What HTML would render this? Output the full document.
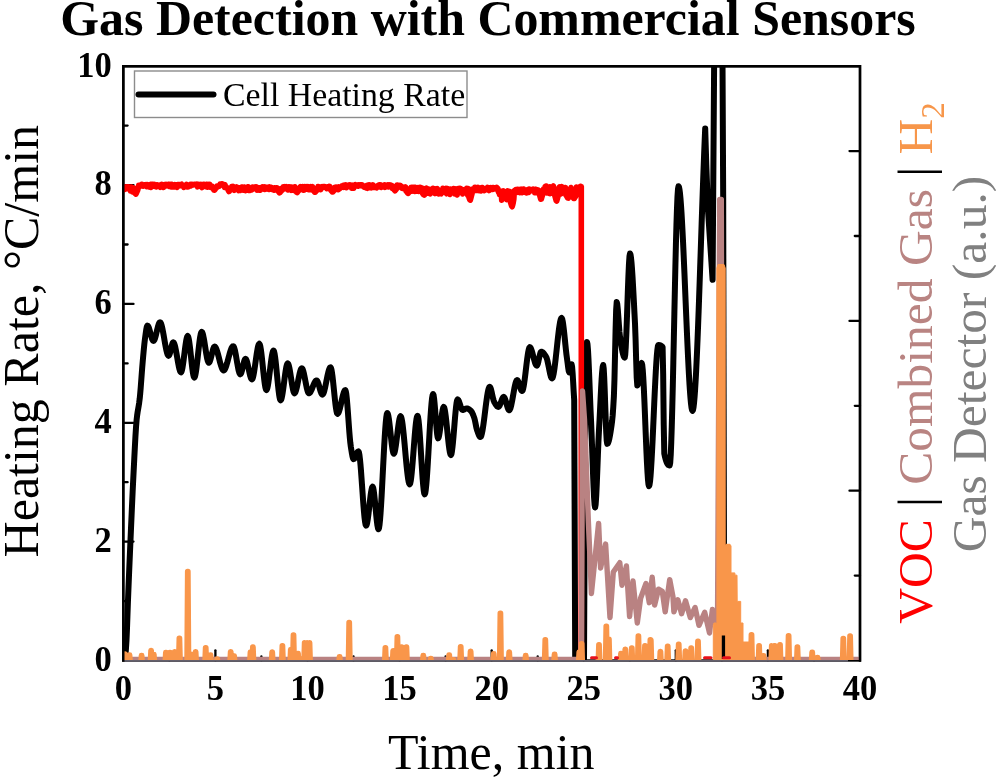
<!DOCTYPE html><html><head><meta charset="utf-8"><title>Gas Detection with Commercial Sensors</title><style>html,body{margin:0;padding:0;background:#fff;}svg{display:block;}</style></head><body>
<svg width="996" height="778" viewBox="0 0 996 778" font-family="'Liberation Serif', 'Times New Roman', serif">
<rect width="996" height="778" fill="#fff"/>
<text x="488" y="35.3" font-size="49.9" font-weight="bold" text-anchor="middle" fill="#000">Gas Detection with Commercial Sensors</text>
<line x1="123.3" y1="601.1" x2="127.6" y2="601.1" stroke="#000" stroke-width="2.3" stroke-linecap="round"/>
<line x1="123.3" y1="541.6" x2="133.5" y2="541.6" stroke="#000" stroke-width="2.3" stroke-linecap="round"/>
<line x1="123.3" y1="482.2" x2="127.6" y2="482.2" stroke="#000" stroke-width="2.3" stroke-linecap="round"/>
<line x1="123.3" y1="422.8" x2="133.5" y2="422.8" stroke="#000" stroke-width="2.3" stroke-linecap="round"/>
<line x1="123.3" y1="363.4" x2="127.6" y2="363.4" stroke="#000" stroke-width="2.3" stroke-linecap="round"/>
<line x1="123.3" y1="303.9" x2="133.5" y2="303.9" stroke="#000" stroke-width="2.3" stroke-linecap="round"/>
<line x1="123.3" y1="244.5" x2="127.6" y2="244.5" stroke="#000" stroke-width="2.3" stroke-linecap="round"/>
<line x1="123.3" y1="185.1" x2="133.5" y2="185.1" stroke="#000" stroke-width="2.3" stroke-linecap="round"/>
<line x1="123.3" y1="125.6" x2="127.6" y2="125.6" stroke="#000" stroke-width="2.3" stroke-linecap="round"/>
<line x1="860.0" y1="575.6" x2="854.8" y2="575.6" stroke="#000" stroke-width="2.3" stroke-linecap="round"/>
<line x1="860.0" y1="490.7" x2="849.5" y2="490.7" stroke="#000" stroke-width="2.3" stroke-linecap="round"/>
<line x1="860.0" y1="405.8" x2="854.8" y2="405.8" stroke="#000" stroke-width="2.3" stroke-linecap="round"/>
<line x1="860.0" y1="320.9" x2="849.5" y2="320.9" stroke="#000" stroke-width="2.3" stroke-linecap="round"/>
<line x1="860.0" y1="236.0" x2="854.8" y2="236.0" stroke="#000" stroke-width="2.3" stroke-linecap="round"/>
<line x1="860.0" y1="151.1" x2="849.5" y2="151.1" stroke="#000" stroke-width="2.3" stroke-linecap="round"/>
<line x1="169.3" y1="660.5" x2="169.3" y2="656.5" stroke="#000" stroke-width="2.3" stroke-linecap="round"/>
<line x1="215.4" y1="660.5" x2="215.4" y2="650.3" stroke="#000" stroke-width="2.3" stroke-linecap="round"/>
<line x1="261.4" y1="660.5" x2="261.4" y2="656.5" stroke="#000" stroke-width="2.3" stroke-linecap="round"/>
<line x1="307.5" y1="660.5" x2="307.5" y2="650.3" stroke="#000" stroke-width="2.3" stroke-linecap="round"/>
<line x1="353.5" y1="660.5" x2="353.5" y2="656.5" stroke="#000" stroke-width="2.3" stroke-linecap="round"/>
<line x1="399.6" y1="660.5" x2="399.6" y2="650.3" stroke="#000" stroke-width="2.3" stroke-linecap="round"/>
<line x1="445.6" y1="660.5" x2="445.6" y2="656.5" stroke="#000" stroke-width="2.3" stroke-linecap="round"/>
<line x1="491.7" y1="660.5" x2="491.7" y2="650.3" stroke="#000" stroke-width="2.3" stroke-linecap="round"/>
<line x1="537.7" y1="660.5" x2="537.7" y2="656.5" stroke="#000" stroke-width="2.3" stroke-linecap="round"/>
<line x1="583.7" y1="660.5" x2="583.7" y2="650.3" stroke="#000" stroke-width="2.3" stroke-linecap="round"/>
<line x1="629.8" y1="660.5" x2="629.8" y2="656.5" stroke="#000" stroke-width="2.3" stroke-linecap="round"/>
<line x1="675.8" y1="660.5" x2="675.8" y2="650.3" stroke="#000" stroke-width="2.3" stroke-linecap="round"/>
<line x1="721.9" y1="660.5" x2="721.9" y2="656.5" stroke="#000" stroke-width="2.3" stroke-linecap="round"/>
<line x1="767.9" y1="660.5" x2="767.9" y2="650.3" stroke="#000" stroke-width="2.3" stroke-linecap="round"/>
<line x1="814.0" y1="660.5" x2="814.0" y2="656.5" stroke="#000" stroke-width="2.3" stroke-linecap="round"/>
<rect x="123.3" y="66.2" width="736.7" height="594.3" fill="none" stroke="#000" stroke-width="2.4"/>
<defs><clipPath id="pc"><rect x="123.3" y="66.2" width="736.7" height="593.7"/></clipPath></defs>
<g clip-path="url(#pc)" fill="none" stroke-linejoin="round" stroke-linecap="round">
<path d="M125.00,661.00 L125.50,654.48 L126.00,647.97 L126.50,640.00 L127.00,628.37 L127.50,613.97 L128.00,600.00 L128.50,587.47 L129.00,575.25 L129.50,563.29 L130.00,551.55 L130.50,540.00 L131.03,527.75 L131.57,515.54 L132.10,503.53 L132.63,491.84 L133.17,480.61 L133.70,470.00 L134.28,458.57 L134.86,447.11 L135.44,436.36 L136.02,427.08 L136.60,420.00 L137.12,415.51 L137.63,411.97 L138.15,408.95 L138.67,406.01 L139.18,402.74 L139.70,398.70 L140.20,393.66 L140.70,387.63 L141.20,381.03 L141.70,374.24 L142.20,367.66 L142.70,361.70 L143.27,355.26 L143.85,348.94 L144.43,343.21 L145.00,338.50 L145.60,334.11 L146.20,329.94 L146.80,326.82 L147.40,325.60 L147.91,325.90 L148.42,326.73 L148.93,327.99 L149.43,329.57 L149.94,331.36 L150.45,333.25 L150.96,335.14 L151.47,336.93 L151.97,338.51 L152.48,339.77 L152.99,340.60 L153.50,340.90 L154.00,340.59 L154.50,339.71 L155.00,338.37 L155.50,336.68 L156.00,334.73 L156.50,332.63 L157.00,330.47 L157.50,328.37 L158.00,326.42 L158.50,324.73 L159.00,323.39 L159.50,322.51 L160.00,322.20 L160.51,322.54 L161.01,323.49 L161.52,324.97 L162.02,326.91 L162.53,329.21 L163.04,331.80 L163.54,334.60 L164.05,337.52 L164.55,340.48 L165.06,343.40 L165.56,346.20 L166.07,348.79 L166.58,351.09 L167.08,353.03 L167.59,354.51 L168.09,355.46 L168.60,355.80 L169.12,355.34 L169.64,354.10 L170.17,352.30 L170.69,350.17 L171.21,347.93 L171.73,345.80 L172.26,344.00 L172.78,342.76 L173.30,342.30 L173.81,342.68 L174.33,343.76 L174.84,345.42 L175.35,347.56 L175.87,350.08 L176.38,352.86 L176.89,355.80 L177.41,358.80 L177.92,361.74 L178.43,364.52 L178.95,367.04 L179.46,369.18 L179.97,370.84 L180.49,371.92 L181.00,372.30 L181.52,371.69 L182.03,369.99 L182.55,367.39 L183.06,364.10 L183.58,360.32 L184.09,356.24 L184.61,352.06 L185.12,347.98 L185.64,344.20 L186.15,340.91 L186.67,338.31 L187.18,336.61 L187.70,336.00 L188.21,336.70 L188.72,338.64 L189.22,341.61 L189.73,345.37 L190.24,349.69 L190.75,354.36 L191.25,359.14 L191.76,363.81 L192.27,368.13 L192.78,371.89 L193.28,374.86 L193.79,376.80 L194.30,377.50 L194.83,376.84 L195.36,374.97 L195.89,372.12 L196.41,368.46 L196.94,364.21 L197.47,359.55 L198.00,354.70 L198.53,349.85 L199.06,345.19 L199.59,340.94 L200.11,337.28 L200.64,334.43 L201.17,332.56 L201.70,331.90 L202.21,332.35 L202.71,333.61 L203.22,335.54 L203.73,338.01 L204.24,340.88 L204.74,344.02 L205.25,347.30 L205.76,350.58 L206.26,353.72 L206.77,356.59 L207.28,359.06 L207.79,360.99 L208.29,362.25 L208.80,362.70 L209.33,362.33 L209.85,361.30 L210.38,359.76 L210.91,357.86 L211.44,355.74 L211.96,353.56 L212.49,351.44 L213.02,349.54 L213.55,348.00 L214.07,346.97 L214.60,346.60 L215.10,346.81 L215.60,347.42 L216.10,348.36 L216.60,349.60 L217.10,351.09 L217.60,352.77 L218.10,354.60 L218.60,356.52 L219.10,358.50 L219.60,360.48 L220.10,362.40 L220.60,364.23 L221.10,365.91 L221.60,367.40 L222.10,368.64 L222.60,369.58 L223.10,370.19 L223.60,370.40 L224.11,370.21 L224.61,369.65 L225.12,368.78 L225.62,367.63 L226.13,366.25 L226.63,364.68 L227.14,362.97 L227.64,361.14 L228.15,359.25 L228.65,357.35 L229.16,355.46 L229.66,353.63 L230.17,351.92 L230.67,350.35 L231.18,348.97 L231.68,347.82 L232.19,346.95 L232.69,346.39 L233.20,346.20 L233.71,346.61 L234.21,347.76 L234.72,349.52 L235.23,351.77 L235.74,354.39 L236.24,357.26 L236.75,360.25 L237.26,363.24 L237.76,366.11 L238.27,368.73 L238.78,370.98 L239.29,372.74 L239.79,373.89 L240.30,374.30 L240.82,373.87 L241.34,372.69 L241.86,370.95 L242.38,368.84 L242.90,366.55 L243.42,364.26 L243.94,362.15 L244.46,360.41 L244.98,359.23 L245.50,358.80 L246.03,359.21 L246.57,360.33 L247.10,362.02 L247.63,364.14 L248.17,366.55 L248.70,369.10 L249.23,371.65 L249.77,374.06 L250.30,376.18 L250.83,377.87 L251.37,378.99 L251.90,379.40 L252.43,378.88 L252.96,377.43 L253.49,375.20 L254.01,372.34 L254.54,369.02 L255.07,365.39 L255.60,361.60 L256.13,357.81 L256.66,354.18 L257.19,350.86 L257.71,348.00 L258.24,345.77 L258.77,344.32 L259.30,343.80 L259.81,344.47 L260.31,346.36 L260.82,349.26 L261.33,352.96 L261.84,357.27 L262.34,361.98 L262.85,366.90 L263.36,371.82 L263.86,376.53 L264.37,380.84 L264.88,384.54 L265.39,387.44 L265.89,389.33 L266.40,390.00 L266.91,389.43 L267.41,387.82 L267.92,385.35 L268.43,382.19 L268.94,378.51 L269.44,374.49 L269.95,370.30 L270.46,366.11 L270.96,362.09 L271.47,358.41 L271.98,355.25 L272.49,352.78 L272.99,351.17 L273.50,350.60 L274.01,351.32 L274.51,353.35 L275.02,356.47 L275.53,360.45 L276.04,365.09 L276.54,370.16 L277.05,375.45 L277.56,380.74 L278.06,385.81 L278.57,390.45 L279.08,394.43 L279.59,397.55 L280.09,399.58 L280.60,400.30 L281.11,399.76 L281.61,398.26 L282.12,395.94 L282.63,392.98 L283.14,389.54 L283.64,385.78 L284.15,381.85 L284.66,377.92 L285.16,374.16 L285.67,370.72 L286.18,367.76 L286.69,365.44 L287.19,363.94 L287.70,363.40 L288.22,363.90 L288.75,365.31 L289.27,367.44 L289.79,370.15 L290.32,373.27 L290.84,376.63 L291.36,380.07 L291.88,383.43 L292.41,386.55 L292.93,389.26 L293.45,391.39 L293.98,392.80 L294.50,393.30 L295.02,392.93 L295.54,391.91 L296.06,390.34 L296.59,388.32 L297.11,385.98 L297.63,383.42 L298.15,380.75 L298.67,378.08 L299.19,375.52 L299.71,373.18 L300.24,371.16 L300.76,369.59 L301.28,368.57 L301.80,368.20 L302.31,368.57 L302.81,369.59 L303.32,371.16 L303.83,373.18 L304.34,375.52 L304.84,378.08 L305.35,380.75 L305.86,383.42 L306.36,385.98 L306.87,388.32 L307.38,390.34 L307.89,391.91 L308.39,392.93 L308.90,393.30 L309.41,393.14 L309.93,392.67 L310.44,391.96 L310.95,391.04 L311.47,389.96 L311.98,388.76 L312.49,387.49 L313.01,386.21 L313.52,384.94 L314.03,383.74 L314.55,382.66 L315.06,381.74 L315.57,381.03 L316.09,380.56 L316.60,380.40 L317.13,380.73 L317.65,381.64 L318.18,382.99 L318.71,384.67 L319.24,386.53 L319.76,388.47 L320.29,390.33 L320.82,392.01 L321.35,393.36 L321.87,394.27 L322.40,394.60 L322.91,394.29 L323.41,393.43 L323.92,392.08 L324.42,390.33 L324.93,388.27 L325.44,385.96 L325.94,383.50 L326.45,380.95 L326.96,378.40 L327.46,375.94 L327.97,373.63 L328.48,371.57 L328.98,369.82 L329.49,368.47 L329.99,367.61 L330.50,367.30 L331.00,367.98 L331.50,369.88 L332.00,372.79 L332.50,376.52 L333.00,380.86 L333.50,385.60 L334.00,390.55 L334.50,395.50 L335.00,400.24 L335.50,404.58 L336.00,408.31 L336.50,411.22 L337.00,413.12 L337.50,413.80 L338.02,413.50 L338.54,412.65 L339.06,411.34 L339.58,409.64 L340.10,407.66 L340.62,405.46 L341.14,403.13 L341.66,400.77 L342.18,398.44 L342.70,396.24 L343.22,394.26 L343.74,392.56 L344.26,391.25 L344.78,390.40 L345.30,390.10 L345.80,391.16 L346.30,394.12 L346.80,398.60 L347.30,404.26 L347.80,410.72 L348.30,417.64 L348.80,424.66 L349.30,431.41 L349.80,437.54 L350.30,442.69 L350.80,446.50 L351.36,449.98 L351.92,453.40 L352.48,456.35 L353.04,458.42 L353.60,459.20 L354.13,458.93 L354.67,458.20 L355.20,457.15 L355.73,455.91 L356.27,454.59 L356.80,453.35 L357.33,452.30 L357.87,451.57 L358.40,451.30 L358.91,452.25 L359.43,454.91 L359.94,459.03 L360.45,464.33 L360.97,470.56 L361.48,477.45 L361.99,484.74 L362.51,492.16 L363.02,499.45 L363.53,506.34 L364.05,512.57 L364.56,517.87 L365.07,521.99 L365.59,524.65 L366.10,525.60 L366.60,524.94 L367.10,523.12 L367.60,520.34 L368.10,516.82 L368.60,512.76 L369.10,508.39 L369.60,503.91 L370.10,499.54 L370.60,495.48 L371.10,491.96 L371.60,489.18 L372.10,487.36 L372.60,486.70 L373.14,487.69 L373.67,490.40 L374.21,494.46 L374.75,499.47 L375.28,505.06 L375.82,510.84 L376.35,516.43 L376.89,521.44 L377.43,525.50 L377.96,528.21 L378.50,529.20 L379.02,528.04 L379.54,524.75 L380.05,519.62 L380.57,512.93 L381.09,504.96 L381.61,495.99 L382.12,486.32 L382.64,476.22 L383.16,465.98 L383.68,455.88 L384.19,446.21 L384.71,437.24 L385.23,429.27 L385.75,422.58 L386.26,417.45 L386.78,414.16 L387.30,413.00 L387.80,413.69 L388.30,415.59 L388.80,418.50 L389.30,422.19 L389.80,426.43 L390.30,431.01 L390.80,435.69 L391.30,440.27 L391.80,444.51 L392.30,448.20 L392.80,451.11 L393.30,453.01 L393.80,453.70 L394.32,453.07 L394.85,451.31 L395.37,448.63 L395.89,445.23 L396.42,441.33 L396.94,437.11 L397.46,432.79 L397.98,428.57 L398.51,424.67 L399.03,421.27 L399.55,418.59 L400.08,416.83 L400.60,416.20 L401.11,416.81 L401.61,418.54 L402.12,421.24 L402.62,424.79 L403.13,429.04 L403.63,433.86 L404.14,439.09 L404.64,444.60 L405.15,450.25 L405.66,455.90 L406.16,461.41 L406.67,466.64 L407.17,471.46 L407.68,475.71 L408.18,479.26 L408.69,481.96 L409.19,483.69 L409.70,484.30 L410.22,483.43 L410.74,480.97 L411.26,477.18 L411.78,472.28 L412.30,466.54 L412.82,460.19 L413.34,453.47 L413.86,446.63 L414.38,439.91 L414.90,433.56 L415.42,427.82 L415.94,422.92 L416.46,419.13 L416.98,416.67 L417.50,415.80 L418.01,416.94 L418.53,420.15 L419.04,425.07 L419.56,431.36 L420.07,438.69 L420.59,446.70 L421.10,455.05 L421.61,463.40 L422.13,471.41 L422.64,478.74 L423.16,485.03 L423.67,489.95 L424.19,493.16 L424.70,494.30 L425.22,493.17 L425.75,489.99 L426.27,485.04 L426.80,478.63 L427.32,471.04 L427.85,462.56 L428.38,453.50 L428.90,444.15 L429.43,434.80 L429.95,425.74 L430.48,417.26 L431.00,409.67 L431.53,403.26 L432.05,398.31 L432.58,395.13 L433.10,394.00 L433.60,395.24 L434.10,398.61 L434.60,403.57 L435.10,409.59 L435.60,416.15 L436.10,422.71 L436.60,428.73 L437.10,433.69 L437.60,437.06 L438.10,438.30 L438.61,437.57 L439.12,435.56 L439.63,432.57 L440.14,428.86 L440.65,424.74 L441.15,420.46 L441.66,416.34 L442.17,412.63 L442.68,409.64 L443.19,407.63 L443.70,406.90 L444.21,407.60 L444.73,409.56 L445.24,412.58 L445.76,416.44 L446.27,420.92 L446.79,425.83 L447.30,430.95 L447.81,436.07 L448.33,440.98 L448.84,445.46 L449.36,449.32 L449.87,452.34 L450.39,454.30 L450.90,455.00 L451.42,454.06 L451.93,451.46 L452.45,447.48 L452.96,442.45 L453.48,436.65 L453.99,430.40 L454.51,424.00 L455.02,417.75 L455.54,411.95 L456.05,406.92 L456.57,402.94 L457.08,400.34 L457.60,399.40 L458.10,399.70 L458.60,400.50 L459.10,401.69 L459.60,403.13 L460.10,404.70 L460.60,406.27 L461.10,407.71 L461.60,408.90 L462.10,409.70 L462.60,410.00 L463.12,409.93 L463.65,409.75 L464.18,409.49 L464.70,409.20 L465.23,408.91 L465.75,408.65 L466.28,408.47 L466.80,408.40 L467.32,408.46 L467.85,408.61 L468.38,408.86 L468.90,409.19 L469.43,409.57 L469.95,410.02 L470.48,410.49 L471.00,411.00 L471.55,411.67 L472.10,412.58 L472.65,413.71 L473.20,415.00 L473.75,416.45 L474.30,418.00 L474.84,420.01 L475.38,422.61 L475.92,425.42 L476.46,428.02 L477.00,430.00 L477.57,431.64 L478.13,433.25 L478.70,434.71 L479.27,435.90 L479.83,436.71 L480.40,437.00 L480.92,436.55 L481.43,435.28 L481.95,433.28 L482.47,430.66 L482.98,427.53 L483.50,423.99 L484.02,420.13 L484.53,416.07 L485.05,411.90 L485.57,407.73 L486.08,403.67 L486.60,399.81 L487.12,396.27 L487.63,393.14 L488.15,390.52 L488.67,388.52 L489.18,387.25 L489.70,386.80 L490.20,387.23 L490.70,388.40 L491.20,390.13 L491.70,392.23 L492.20,394.52 L492.70,396.82 L493.20,398.94 L493.70,400.69 L494.20,401.90 L494.72,402.82 L495.25,403.71 L495.77,404.56 L496.30,405.32 L496.82,405.96 L497.35,406.46 L497.88,406.79 L498.40,406.90 L498.93,406.62 L499.46,405.86 L499.99,404.74 L500.52,403.38 L501.05,401.90 L501.58,400.42 L502.11,399.06 L502.64,397.94 L503.17,397.18 L503.70,396.90 L504.20,397.21 L504.70,398.06 L505.20,399.33 L505.70,400.90 L506.20,402.65 L506.70,404.45 L507.20,406.20 L507.70,407.77 L508.20,409.04 L508.70,409.89 L509.20,410.20 L509.73,409.82 L510.25,408.74 L510.78,407.07 L511.31,404.92 L511.83,402.40 L512.36,399.60 L512.89,396.65 L513.41,393.65 L513.94,390.70 L514.47,387.90 L514.99,385.38 L515.52,383.23 L516.05,381.56 L516.57,380.48 L517.10,380.10 L517.60,380.41 L518.10,381.23 L518.60,382.45 L519.10,383.94 L519.60,385.55 L520.10,387.16 L520.60,388.65 L521.10,389.87 L521.60,390.69 L522.10,391.00 L522.61,390.44 L523.13,388.87 L523.64,386.44 L524.15,383.32 L524.67,379.64 L525.18,375.58 L525.69,371.29 L526.21,366.91 L526.72,362.62 L527.23,358.56 L527.75,354.88 L528.26,351.76 L528.77,349.33 L529.29,347.76 L529.80,347.20 L530.30,347.47 L530.80,348.22 L531.30,349.37 L531.80,350.85 L532.30,352.56 L532.80,354.44 L533.30,356.40 L533.80,358.36 L534.30,360.24 L534.80,361.95 L535.30,363.43 L535.80,364.58 L536.30,365.33 L536.80,365.60 L537.35,365.00 L537.90,363.43 L538.45,361.20 L539.00,358.65 L539.55,356.10 L540.10,353.87 L540.65,352.30 L541.20,351.70 L541.70,351.78 L542.20,351.99 L542.70,352.33 L543.20,352.79 L543.70,353.33 L544.20,353.96 L544.70,354.66 L545.20,355.41 L545.70,356.19 L546.20,357.00 L546.73,358.21 L547.25,360.01 L547.78,362.27 L548.31,364.82 L548.84,367.52 L549.36,370.22 L549.89,372.76 L550.42,375.00 L550.95,376.79 L551.47,377.97 L552.00,378.40 L552.51,377.92 L553.01,376.53 L553.52,374.36 L554.02,371.50 L554.53,368.05 L555.03,364.13 L555.54,359.85 L556.04,355.29 L556.55,350.58 L557.05,345.82 L557.56,341.11 L558.06,336.55 L558.57,332.27 L559.07,328.35 L559.58,324.90 L560.08,322.04 L560.59,319.87 L561.09,318.48 L561.60,318.00 L562.14,318.82 L562.68,321.08 L563.22,324.52 L563.76,328.87 L564.30,333.84 L564.84,339.17 L565.38,344.59 L565.92,349.81 L566.46,354.57 L567.00,358.60 L567.58,362.91 L568.15,367.45 L568.72,371.04 L569.30,372.50 L569.88,371.22 L570.45,368.40 L571.02,365.58 L571.60,364.30 L572.12,366.87 L572.64,373.44 L573.16,382.29 L573.68,391.72 L574.20,400.00 L575.20,661.00 L584.00,661.00 L585.20,420.00 L585.80,388.18 L586.40,356.36 L587.00,341.90 L587.50,344.14 L588.00,350.28 L588.50,359.44 L589.00,370.76 L589.50,383.34 L590.00,396.33 L590.50,408.84 L591.00,420.00 L591.51,431.76 L592.02,445.43 L592.54,459.93 L593.05,474.20 L593.56,487.16 L594.08,497.75 L594.59,504.88 L595.10,507.50 L595.66,504.40 L596.21,496.10 L596.77,484.13 L597.33,470.01 L597.89,455.27 L598.44,441.43 L599.00,430.00 L599.52,420.20 L600.05,409.55 L600.58,398.71 L601.10,388.35 L601.62,379.13 L602.15,371.73 L602.68,366.79 L603.20,365.00 L603.70,368.39 L604.20,377.33 L604.70,389.96 L605.20,404.45 L605.70,418.94 L606.20,431.57 L606.70,440.51 L607.20,443.90 L607.74,443.53 L608.29,442.46 L608.83,440.75 L609.38,438.49 L609.92,435.74 L610.47,432.56 L611.01,429.04 L611.56,425.22 L612.10,421.20 L612.70,415.21 L613.30,406.64 L613.90,396.00 L614.46,379.35 L615.02,355.18 L615.58,329.93 L616.14,310.06 L616.70,302.00 L617.25,304.11 L617.80,309.52 L618.35,316.88 L618.90,324.82 L619.45,331.98 L620.00,337.00 L620.52,340.33 L621.04,343.62 L621.57,346.77 L622.09,349.69 L622.61,352.29 L623.13,354.47 L623.66,356.15 L624.18,357.22 L624.70,357.60 L625.23,354.69 L625.76,346.77 L626.29,335.11 L626.82,320.96 L627.35,305.55 L627.88,290.14 L628.41,275.99 L628.94,264.33 L629.47,256.41 L630.00,253.50 L630.50,254.60 L631.00,257.71 L631.50,262.58 L632.00,268.94 L632.50,276.52 L633.00,285.06 L633.50,294.29 L634.00,303.95 L634.50,313.78 L635.00,323.50 L635.58,339.37 L636.15,359.96 L636.72,377.79 L637.30,385.40 L637.85,384.44 L638.40,381.90 L638.95,378.31 L639.50,374.20 L640.05,370.09 L640.60,366.50 L641.15,363.96 L641.70,363.00 L642.22,364.80 L642.74,369.82 L643.26,377.55 L643.79,387.42 L644.31,398.92 L644.83,411.49 L645.35,424.60 L645.87,437.71 L646.39,450.28 L646.91,461.78 L647.44,471.65 L647.96,479.38 L648.48,484.40 L649.00,486.20 L649.52,484.94 L650.04,481.36 L650.57,475.74 L651.09,468.38 L651.61,459.57 L652.13,449.59 L652.66,438.75 L653.18,427.32 L653.70,415.60 L654.22,403.88 L654.74,392.45 L655.27,381.61 L655.79,371.63 L656.31,362.82 L656.83,355.46 L657.36,349.84 L657.88,346.26 L658.40,345.00 L658.92,345.02 L659.45,345.10 L659.98,345.23 L660.50,345.42 L661.02,345.69 L661.55,346.04 L662.08,346.47 L662.60,347.00 L663.17,374.27 L663.73,424.82 L664.30,453.60 L664.84,456.16 L665.38,458.35 L665.92,460.20 L666.46,461.74 L667.00,462.98 L667.54,463.94 L668.08,464.66 L668.62,465.14 L669.16,465.41 L669.70,465.50 L670.22,462.72 L670.74,454.82 L671.25,442.48 L671.77,426.40 L672.29,407.25 L672.81,385.71 L673.32,362.47 L673.84,338.20 L674.36,313.60 L674.88,289.33 L675.39,266.09 L675.91,244.55 L676.43,225.40 L676.95,209.32 L677.46,196.98 L677.98,189.08 L678.50,186.30 L679.00,187.14 L679.50,189.57 L680.00,193.48 L680.50,198.74 L681.00,205.22 L681.50,212.81 L682.00,221.38 L682.50,230.81 L683.00,240.97 L683.50,251.75 L684.00,263.02 L684.50,274.66 L685.00,286.54 L685.50,298.55 L686.00,310.56 L686.50,322.44 L687.00,334.08 L687.50,345.35 L688.00,356.13 L688.50,366.29 L689.00,375.72 L689.50,384.29 L690.00,391.88 L690.50,398.36 L691.00,403.62 L691.50,407.53 L692.00,409.96 L692.50,410.80 L693.01,409.91 L693.52,407.33 L694.02,403.15 L694.53,397.50 L695.04,390.47 L695.55,382.17 L696.06,372.72 L696.56,362.22 L697.07,350.78 L697.58,338.51 L698.09,325.51 L698.60,311.90 L699.10,297.79 L699.61,283.27 L700.12,268.47 L700.63,253.49 L701.14,238.43 L701.64,223.41 L702.15,208.54 L702.66,193.92 L703.17,179.66 L703.68,165.87 L704.18,152.65 L704.69,140.13 L705.20,128.40 L706.30,165.00 L708.00,210.00 L712.60,279.80 L714.30,40.00 L722.40,40.00 L723.20,200.00 L724.20,655.00" stroke="#000" stroke-width="6.0"/>
<path d="M123.30,187.71 L123.85,187.07 L124.40,189.57 L124.95,186.88 L125.50,188.83 L126.05,187.90 L126.60,186.86 L127.15,188.66 L127.70,186.83 L128.25,188.24 L128.80,186.88 L129.35,186.92 L129.90,188.20 L130.45,190.86 L131.00,186.99 L131.55,187.30 L132.10,189.41 L132.65,191.85 L133.20,189.08 L133.75,188.05 L134.30,192.57 L134.85,193.08 L135.40,193.58 L135.95,194.08 L136.50,192.99 L137.05,191.73 L137.60,190.47 L138.15,188.31 L138.70,185.38 L139.25,186.51 L139.80,186.48 L140.35,185.23 L140.90,185.57 L141.45,184.34 L142.00,184.34 L142.55,184.56 L143.10,186.03 L143.65,185.12 L144.20,184.80 L144.75,185.66 L145.30,185.20 L145.85,184.77 L146.40,186.51 L146.95,186.10 L147.50,184.64 L148.05,185.62 L148.60,185.44 L149.15,186.89 L149.70,186.23 L150.25,184.74 L150.80,187.40 L151.35,184.40 L151.90,185.09 L152.45,186.35 L153.00,184.46 L153.55,185.32 L154.10,184.32 L154.65,185.98 L155.20,186.38 L155.75,185.61 L156.30,186.89 L156.85,184.80 L157.40,186.09 L157.95,185.69 L158.50,185.64 L159.05,185.21 L159.60,186.72 L160.15,187.22 L160.70,185.27 L161.25,185.96 L161.80,184.34 L162.35,186.11 L162.90,185.89 L163.45,187.46 L164.00,186.64 L164.55,184.73 L165.10,185.00 L165.65,185.98 L166.20,184.31 L166.75,185.23 L167.30,184.48 L167.85,184.40 L168.40,184.33 L168.95,186.40 L169.50,184.42 L170.05,184.64 L170.60,185.01 L171.15,186.87 L171.70,184.36 L172.25,185.19 L172.80,185.53 L173.35,186.92 L173.90,186.63 L174.45,186.83 L175.00,184.71 L175.55,185.08 L176.10,184.92 L176.65,186.93 L177.20,187.29 L177.75,184.46 L178.30,184.50 L178.85,184.61 L179.40,184.61 L179.95,185.31 L180.50,185.67 L181.05,184.68 L181.60,184.30 L182.15,185.10 L182.70,184.95 L183.25,185.59 L183.80,187.26 L184.35,186.07 L184.90,185.41 L185.45,185.78 L186.00,186.01 L186.55,184.33 L187.10,187.00 L187.65,186.45 L188.20,186.88 L188.75,186.53 L189.30,185.02 L189.85,185.04 L190.40,184.38 L190.95,185.84 L191.50,184.34 L192.05,184.34 L192.60,184.56 L193.15,184.47 L193.70,184.87 L194.25,184.33 L194.80,184.30 L195.35,184.46 L195.90,184.38 L196.45,184.93 L197.00,184.31 L197.55,186.88 L198.10,185.77 L198.65,184.45 L199.20,184.65 L199.75,184.89 L200.30,184.94 L200.85,184.41 L201.40,186.76 L201.95,187.46 L202.50,185.24 L203.05,185.30 L203.60,184.36 L204.15,184.38 L204.70,184.88 L205.25,184.68 L205.80,186.67 L206.35,184.47 L206.90,184.31 L207.45,187.25 L208.00,185.45 L208.55,184.45 L209.10,185.51 L209.65,184.31 L210.20,185.45 L210.75,187.39 L211.30,186.83 L211.85,186.09 L212.40,187.50 L212.95,188.38 L213.50,189.26 L214.05,190.13 L214.60,190.26 L215.15,189.27 L215.70,188.29 L216.25,187.36 L216.80,186.20 L217.35,187.10 L217.90,186.44 L218.45,186.23 L219.00,186.32 L219.55,185.96 L220.10,184.13 L220.65,185.04 L221.20,184.49 L221.75,183.81 L222.30,183.81 L222.85,184.28 L223.40,184.23 L223.95,185.87 L224.50,187.30 L225.05,184.85 L225.60,187.24 L226.15,187.57 L226.70,187.40 L227.25,188.21 L227.80,189.34 L228.35,190.47 L228.90,191.59 L229.45,191.17 L230.00,190.40 L230.55,189.63 L231.10,188.09 L231.65,186.62 L232.20,187.74 L232.75,188.85 L233.30,186.46 L233.85,188.77 L234.40,190.24 L234.95,189.50 L235.50,189.32 L236.05,188.03 L236.60,187.05 L237.15,189.53 L237.70,187.48 L238.25,189.59 L238.80,190.60 L239.35,187.70 L239.90,187.72 L240.45,190.44 L241.00,189.17 L241.55,187.03 L242.10,186.95 L242.65,186.99 L243.20,190.17 L243.75,189.60 L244.30,186.98 L244.85,189.71 L245.40,190.62 L245.95,188.82 L246.50,187.54 L247.05,188.31 L247.60,186.95 L248.15,186.80 L248.70,190.55 L249.25,188.77 L249.80,188.21 L250.35,190.32 L250.90,187.83 L251.45,189.95 L252.00,189.69 L252.55,187.12 L253.10,187.23 L253.65,187.35 L254.20,187.20 L254.75,188.46 L255.30,187.25 L255.85,187.77 L256.40,186.95 L256.95,190.15 L257.50,187.54 L258.05,187.92 L258.60,188.44 L259.15,190.11 L259.70,187.77 L260.25,190.18 L260.80,188.09 L261.35,188.21 L261.90,188.18 L262.45,186.81 L263.00,187.84 L263.55,187.06 L264.10,186.80 L264.65,189.50 L265.20,187.03 L265.75,187.97 L266.30,189.10 L266.85,188.31 L267.40,187.44 L267.95,188.14 L268.50,188.30 L269.05,189.40 L269.60,186.91 L270.15,188.32 L270.70,187.21 L271.25,187.29 L271.80,189.33 L272.35,188.09 L272.90,188.32 L273.45,189.26 L274.00,190.10 L274.55,187.84 L275.10,188.54 L275.65,188.08 L276.20,188.11 L276.75,188.92 L277.30,187.87 L277.85,190.90 L278.40,191.55 L278.95,192.21 L279.50,192.86 L280.05,192.43 L280.60,191.77 L281.15,191.10 L281.70,188.26 L282.25,190.21 L282.80,189.62 L283.35,186.91 L283.90,186.88 L284.45,187.77 L285.00,186.80 L285.55,187.12 L286.10,186.79 L286.65,188.71 L287.20,189.27 L287.75,189.88 L288.30,186.91 L288.85,188.91 L289.40,188.64 L289.95,186.87 L290.50,189.76 L291.05,190.24 L291.60,187.02 L292.15,190.14 L292.70,187.54 L293.25,187.86 L293.80,190.34 L294.35,189.44 L294.90,186.86 L295.45,190.91 L296.00,191.57 L296.55,192.22 L297.10,192.63 L297.65,191.97 L298.20,191.30 L298.75,190.63 L299.30,188.07 L299.85,187.62 L300.40,186.63 L300.95,187.25 L301.50,188.34 L302.05,187.87 L302.60,186.65 L303.15,190.19 L303.70,189.11 L304.25,190.10 L304.80,186.68 L305.35,187.02 L305.90,186.60 L306.45,189.03 L307.00,187.02 L307.55,186.70 L308.10,187.48 L308.65,189.70 L309.20,189.20 L309.75,186.96 L310.30,186.71 L310.85,189.72 L311.40,188.01 L311.95,188.58 L312.50,186.60 L313.05,190.21 L313.60,190.86 L314.15,191.51 L314.70,192.17 L315.25,192.22 L315.80,191.55 L316.35,190.89 L316.90,190.22 L317.45,189.30 L318.00,186.52 L318.55,189.32 L319.10,187.49 L319.65,187.10 L320.20,187.85 L320.75,189.64 L321.30,186.89 L321.85,186.58 L322.40,187.73 L322.95,186.80 L323.50,186.54 L324.05,186.62 L324.60,186.45 L325.15,186.70 L325.70,186.97 L326.25,186.94 L326.80,188.70 L327.35,186.89 L327.90,187.57 L328.45,186.62 L329.00,187.04 L329.55,186.39 L330.10,186.77 L330.65,189.98 L331.20,190.63 L331.75,191.29 L332.30,191.94 L332.85,191.99 L333.40,191.33 L333.95,190.66 L334.50,189.99 L335.05,187.26 L335.60,187.48 L336.15,188.97 L336.70,187.12 L337.25,187.51 L337.80,188.25 L338.35,189.72 L338.90,186.94 L339.45,188.92 L340.00,188.31 L340.55,187.84 L341.10,186.80 L341.65,186.46 L342.20,185.67 L342.75,185.61 L343.30,185.36 L343.85,187.36 L344.40,185.38 L344.95,185.01 L345.50,184.87 L346.05,187.53 L346.60,187.68 L347.15,186.70 L347.70,185.27 L348.25,185.17 L348.80,185.31 L349.35,185.84 L349.90,184.99 L350.45,185.79 L351.00,185.23 L351.55,188.18 L352.10,188.24 L352.65,186.17 L353.20,185.18 L353.75,188.20 L354.30,185.35 L354.85,185.49 L355.40,184.80 L355.95,185.57 L356.50,185.89 L357.05,186.00 L357.60,185.08 L358.15,186.01 L358.70,184.80 L359.25,185.23 L359.80,184.88 L360.35,185.63 L360.90,184.82 L361.45,184.81 L362.00,185.34 L362.55,185.15 L363.10,186.33 L363.65,186.10 L364.20,187.07 L364.75,186.64 L365.30,186.91 L365.85,187.73 L366.40,185.60 L366.95,185.40 L367.50,188.31 L368.05,184.97 L368.60,186.95 L369.15,186.58 L369.70,184.82 L370.25,187.50 L370.80,187.80 L371.35,186.51 L371.90,186.99 L372.45,187.38 L373.00,184.95 L373.55,186.08 L374.10,186.00 L374.65,187.50 L375.20,187.34 L375.75,187.45 L376.30,186.32 L376.85,187.80 L377.40,186.76 L377.95,186.80 L378.50,185.14 L379.05,184.81 L379.60,184.94 L380.15,185.50 L380.70,184.90 L381.25,187.50 L381.80,186.22 L382.35,186.51 L382.90,186.50 L383.45,186.75 L384.00,185.95 L384.55,184.80 L385.10,187.31 L385.65,187.06 L386.20,186.00 L386.75,186.12 L387.30,186.65 L387.85,184.85 L388.40,187.01 L388.95,185.20 L389.50,184.86 L390.05,185.23 L390.60,186.97 L391.15,185.09 L391.70,187.02 L392.25,188.26 L392.80,185.96 L393.35,188.82 L393.90,189.48 L394.45,190.14 L395.00,190.80 L395.55,190.14 L396.10,189.48 L396.65,188.82 L397.20,184.97 L397.75,185.20 L398.30,187.14 L398.85,185.62 L399.40,186.72 L399.95,185.45 L400.50,185.67 L401.05,186.27 L401.60,187.97 L402.15,188.28 L402.70,188.40 L403.25,187.08 L403.80,188.09 L404.35,187.97 L404.90,188.00 L405.45,186.97 L406.00,190.93 L406.55,191.64 L407.10,192.36 L407.65,193.08 L408.20,193.31 L408.75,192.71 L409.30,192.11 L409.85,191.51 L410.40,188.19 L410.95,187.52 L411.50,187.36 L412.05,191.17 L412.60,187.40 L413.15,188.98 L413.70,187.25 L414.25,188.74 L414.80,191.49 L415.35,187.27 L415.90,190.64 L416.45,188.77 L417.00,191.21 L417.55,189.98 L418.10,187.64 L418.65,191.44 L419.20,188.79 L419.75,187.21 L420.30,187.21 L420.85,188.91 L421.40,188.71 L421.95,188.03 L422.50,193.24 L423.05,193.96 L423.60,194.68 L424.15,195.06 L424.70,194.56 L425.25,194.05 L425.80,193.55 L426.35,188.08 L426.90,192.98 L427.45,191.43 L428.00,193.07 L428.55,189.08 L429.10,189.47 L429.65,189.58 L430.20,193.99 L430.75,190.75 L431.30,189.42 L431.85,189.78 L432.40,189.03 L432.95,188.35 L433.50,188.45 L434.05,192.66 L434.60,189.09 L435.15,193.57 L435.70,188.94 L436.25,189.01 L436.80,190.32 L437.35,188.72 L437.90,189.53 L438.45,193.86 L439.00,193.22 L439.55,192.60 L440.10,191.18 L440.65,193.53 L441.20,193.80 L441.75,190.63 L442.30,191.90 L442.85,188.35 L443.40,192.03 L443.95,190.02 L444.50,192.22 L445.05,191.36 L445.60,189.14 L446.15,188.35 L446.70,193.83 L447.25,188.53 L447.80,190.19 L448.35,189.44 L448.90,189.21 L449.45,192.20 L450.00,194.41 L450.55,189.04 L451.10,191.55 L451.65,189.24 L452.20,190.82 L452.75,189.75 L453.30,188.67 L453.85,188.65 L454.40,188.83 L454.95,193.86 L455.50,190.43 L456.05,188.88 L456.60,193.91 L457.15,194.84 L457.70,190.14 L458.25,188.58 L458.80,188.77 L459.35,188.44 L459.90,189.50 L460.45,188.44 L461.00,188.98 L461.55,189.07 L462.10,191.04 L462.65,193.88 L463.20,192.57 L463.75,189.95 L464.30,189.96 L464.85,190.73 L465.40,189.74 L465.95,189.51 L466.50,188.38 L467.05,189.19 L467.60,194.87 L468.15,188.55 L468.70,196.66 L469.25,198.22 L469.80,199.77 L470.35,200.10 L470.90,197.97 L471.45,195.84 L472.00,193.71 L472.55,189.05 L473.10,191.65 L473.65,190.48 L474.20,190.30 L474.75,187.41 L475.30,187.41 L475.85,189.48 L476.40,190.42 L476.95,188.49 L477.50,188.94 L478.05,187.40 L478.60,188.20 L479.15,190.59 L479.70,190.05 L480.25,190.20 L480.80,190.84 L481.35,187.79 L481.90,187.50 L482.45,187.58 L483.00,188.67 L483.55,189.35 L484.10,190.67 L484.65,189.54 L485.20,189.20 L485.75,189.74 L486.30,188.43 L486.85,188.79 L487.40,187.42 L487.95,189.83 L488.50,187.75 L489.05,190.55 L489.60,189.19 L490.15,187.94 L490.70,187.53 L491.25,187.80 L491.80,189.15 L492.35,189.43 L492.90,187.51 L493.45,187.45 L494.00,188.68 L494.55,188.92 L495.10,188.19 L495.65,187.73 L496.20,188.99 L496.75,187.40 L497.30,187.93 L497.85,188.44 L498.40,192.02 L498.95,191.26 L499.50,194.68 L500.05,192.15 L500.60,191.25 L501.15,191.87 L501.70,200.18 L502.25,196.51 L502.80,192.31 L503.35,190.82 L503.90,194.08 L504.45,196.13 L505.00,193.30 L505.55,191.94 L506.10,196.04 L506.65,199.63 L507.20,191.73 L507.75,190.84 L508.30,192.56 L508.85,193.30 L509.40,196.23 L509.95,191.55 L510.50,202.40 L511.05,204.16 L511.60,205.92 L512.15,206.72 L512.70,204.96 L513.25,202.54 L513.80,199.33 L514.35,190.73 L514.90,190.27 L515.45,192.60 L516.00,189.64 L516.55,192.61 L517.10,190.34 L517.65,189.36 L518.20,189.45 L518.75,190.04 L519.30,191.08 L519.85,192.59 L520.40,189.28 L520.95,189.95 L521.50,189.42 L522.05,192.74 L522.60,189.27 L523.15,189.13 L523.70,189.14 L524.25,189.95 L524.80,192.30 L525.35,192.22 L525.90,191.41 L526.45,192.88 L527.00,192.49 L527.55,189.74 L528.10,189.36 L528.65,192.52 L529.20,191.48 L529.75,189.12 L530.30,191.08 L530.85,189.90 L531.40,189.89 L531.95,189.75 L532.50,189.32 L533.05,189.10 L533.60,189.60 L534.15,189.81 L534.70,192.63 L535.25,189.23 L535.80,192.69 L536.35,189.41 L536.90,189.83 L537.45,191.87 L538.00,191.88 L538.55,190.09 L539.10,193.26 L539.65,195.24 L540.20,197.22 L540.75,199.20 L541.30,199.09 L541.85,197.23 L542.40,195.37 L542.95,193.51 L543.50,188.97 L544.05,191.77 L544.60,191.33 L545.15,186.57 L545.70,186.22 L546.25,186.10 L546.80,193.04 L547.35,186.92 L547.90,191.09 L548.45,192.86 L549.00,187.45 L549.55,187.02 L550.10,193.69 L550.65,189.82 L551.20,186.98 L551.75,190.89 L552.30,187.33 L552.85,187.07 L553.40,186.00 L553.95,191.41 L554.50,194.50 L555.05,196.51 L555.60,198.52 L556.15,200.54 L556.70,201.11 L557.25,199.16 L557.80,197.21 L558.35,195.27 L558.90,187.91 L559.45,186.96 L560.00,188.29 L560.55,188.86 L561.10,193.89 L561.65,186.59 L562.20,192.30 L562.75,191.53 L563.30,192.60 L563.85,191.99 L564.40,190.09 L564.95,187.53 L565.50,187.47 L566.05,195.26 L566.60,196.17 L567.15,197.08 L567.70,198.00 L568.25,198.11 L568.80,197.26 L569.35,196.41 L569.90,195.57 L570.45,189.65 L571.00,187.57 L571.55,195.20 L572.10,195.70 L572.65,196.61 L573.20,197.52 L573.75,198.43 L574.30,198.38 L574.85,197.54 L575.40,196.69 L575.95,195.84 L576.50,186.96 L577.05,188.42 L577.60,190.59 L578.15,191.26 L578.70,192.24 L579.25,193.63 L579.80,191.19 L580.35,186.34 L581.30,186.50 L581.30,663.00 L731.00,663.00" stroke="#ff0000" stroke-width="5.6"/>
<path d="M123.30,659.50 L581.50,659.50 L582.50,391.00 L584.50,420.00 L586.50,470.00 L588.30,520.00 L590.30,565.60 L591.40,593.50 L598.60,523.40 L600.60,568.00 L605.60,544.10 L610.00,617.60 L613.30,572.00 L619.80,562.70 L622.00,585.20 L626.40,566.00 L629.60,616.50 L633.00,580.90 L637.30,623.00 L640.60,598.30 L646.00,583.50 L649.30,602.70 L652.20,577.30 L654.60,605.00 L658.50,589.20 L662.30,591.30 L665.20,611.80 L669.70,579.60 L673.00,597.00 L673.90,611.80 L677.80,599.80 L681.60,613.70 L685.50,600.80 L690.30,617.60 L695.10,607.50 L699.00,625.30 L704.70,612.30 L709.50,633.00 L712.40,609.50 L715.30,620.30 L717.50,628.00 L719.70,199.50 L721.30,199.50 L722.40,659.50 L858.00,659.50" stroke="#b98282" stroke-width="5.4"/>
<path d="M123.30,663.50 L122.45,663.50 L123.10,653.80 L124.10,663.50 L125.10,653.80 L125.75,663.50 L128.60,663.50 L129.25,655.00 L129.75,655.00 L130.40,663.50 L140.70,663.50 L141.35,655.50 L141.85,655.50 L142.50,663.50 L150.20,663.50 L150.85,650.40 L151.35,650.40 L152.00,663.50 L152.90,663.50 L153.55,654.40 L154.05,654.40 L154.70,663.50 L165.00,663.50 L165.65,652.40 L166.15,652.40 L166.80,663.50 L169.10,663.50 L169.75,652.40 L170.25,652.40 L170.90,663.50 L173.80,663.50 L174.45,651.70 L174.95,651.70 L175.60,663.50 L178.50,663.50 L179.15,638.20 L179.65,638.20 L180.30,663.50 L186.90,663.50 L187.55,571.40 L188.05,571.40 L188.70,663.50 L190.70,663.50 L191.35,654.40 L191.85,654.40 L192.50,663.50 L194.70,663.50 L195.35,651.70 L195.85,651.70 L196.50,663.50 L204.80,663.50 L205.45,647.70 L205.95,647.70 L206.60,663.50 L209.60,663.50 L210.25,655.00 L210.75,655.00 L211.40,663.50 L216.30,663.50 L216.95,659.00 L217.45,659.00 L218.10,663.50 L229.80,663.50 L230.45,651.70 L230.95,651.70 L231.60,663.50 L233.20,663.50 L233.85,655.80 L234.35,655.80 L235.00,663.50 L249.60,663.50 L250.25,651.80 L250.75,651.80 L251.40,663.50 L252.00,663.50 L252.65,647.00 L253.15,647.00 L253.80,663.50 L271.30,663.50 L271.95,651.80 L272.45,651.80 L273.10,663.50 L281.50,663.50 L282.15,645.70 L282.65,645.70 L283.30,663.50 L289.90,663.50 L290.55,649.40 L291.05,649.40 L291.70,663.50 L292.60,663.50 L293.25,635.00 L293.75,635.00 L294.40,663.50 L297.10,663.50 L297.75,653.50 L298.25,653.50 L298.90,663.50 L302.60,663.50 L303.25,657.80 L303.75,657.80 L304.40,663.50 L303.80,663.50 L304.45,642.70 L305.90,663.50 L307.10,642.70 L308.30,663.50 L309.75,642.70 L310.40,663.50 L338.70,663.50 L339.35,656.60 L339.85,656.60 L340.50,663.50 L348.30,663.50 L348.95,622.50 L349.45,622.50 L350.10,663.50 L384.50,663.50 L385.15,647.60 L385.65,647.60 L386.30,663.50 L392.30,663.50 L392.95,650.60 L393.45,650.60 L394.10,663.50 L396.50,663.50 L397.15,636.70 L397.65,636.70 L398.30,663.50 L400.70,663.50 L401.35,647.00 L401.85,647.00 L402.50,663.50 L405.50,663.50 L406.15,646.90 L406.65,646.90 L407.30,663.50 L422.40,663.50 L423.05,655.40 L423.55,655.40 L424.20,663.50 L429.90,663.50 L430.55,658.40 L431.05,658.40 L431.70,663.50 L448.30,663.50 L448.95,654.80 L449.45,654.80 L450.10,663.50 L452.50,663.50 L453.15,659.60 L453.65,659.60 L454.30,663.50 L459.80,663.50 L460.45,646.70 L460.95,646.70 L461.60,663.50 L469.70,663.50 L470.35,651.20 L470.85,651.20 L471.50,663.50 L492.80,663.50 L493.45,653.60 L493.95,653.60 L494.60,663.50 L499.50,663.50 L500.15,613.20 L500.65,613.20 L501.30,663.50 L508.30,663.50 L508.95,652.00 L509.45,652.00 L510.10,663.50 L524.80,663.50 L525.45,655.40 L525.95,655.40 L526.60,663.50 L544.40,663.50 L545.05,639.70 L545.55,639.70 L546.20,663.50 L553.70,663.50 L554.35,654.10 L554.85,654.10 L555.50,663.50 L578.40,663.50 L579.05,651.95 L579.55,651.95 L580.20,663.50 L580.70,663.50 L581.35,643.65 L581.85,643.65 L582.50,663.50 L598.10,663.50 L598.75,644.65 L599.25,644.65 L599.90,663.50 L605.40,663.50 L606.05,626.15 L606.55,626.15 L607.20,663.50 L608.00,663.50 L608.65,639.25 L609.15,639.25 L609.80,663.50 L620.10,663.50 L620.75,653.45 L621.25,653.45 L621.90,663.50 L624.40,663.50 L625.05,649.05 L625.55,649.05 L626.20,663.50 L630.90,663.50 L631.55,647.95 L632.05,647.95 L632.70,663.50 L637.50,663.50 L638.15,635.95 L638.65,635.95 L639.30,663.50 L644.10,663.50 L644.75,645.65 L645.25,645.65 L645.90,663.50 L649.50,663.50 L650.15,639.65 L650.65,639.65 L651.30,663.50 L649.90,663.50 L650.55,640.25 L651.05,640.25 L651.70,663.50 L659.50,663.50 L660.15,651.45 L660.65,651.45 L661.30,663.50 L666.80,663.50 L667.45,646.05 L667.95,646.05 L668.60,663.50 L677.80,663.50 L678.45,644.15 L678.95,644.15 L679.60,663.50 L684.60,663.50 L685.25,650.85 L685.75,650.85 L686.40,663.50 L690.30,663.50 L690.95,647.95 L691.45,647.95 L692.10,663.50 L697.10,663.50 L697.75,641.25 L698.25,641.25 L698.90,663.50 L712.60,663.50 L749.50,663.50 L750.60,663.50 L751.25,634.65 L751.75,634.65 L752.40,663.50 L758.20,663.50 L758.85,645.65 L759.35,645.65 L760.00,663.50 L762.60,663.50 L763.25,655.65 L763.75,655.65 L764.40,663.50 L770.90,663.50 L771.55,645.75 L772.80,663.50 L773.80,645.75 L775.05,645.75 L775.70,663.50 L779.10,663.50 L779.75,644.65 L780.25,644.65 L780.90,663.50 L787.70,663.50 L788.35,635.55 L788.85,635.55 L789.50,663.50 L796.50,663.50 L797.15,646.85 L797.65,646.85 L798.30,663.50 L811.30,663.50 L811.95,652.15 L812.45,652.15 L813.10,663.50 L816.60,663.50 L817.25,657.45 L817.75,657.45 L818.40,663.50 L842.40,663.50 L843.05,638.45 L843.55,638.45 L844.20,663.50 L849.20,663.50 L849.85,635.85 L850.35,635.85 L851.00,663.50 L853.00,663.50 L858.00,663.50" stroke="#f9964a" stroke-width="5.3"/>
<path d="M713.30,660.00 L713.30,625.00 L714.00,623.00 L716.20,623.00 L716.90,625.00 L716.90,268.00 L718.00,264.50 L724.00,264.50 L725.20,268.00 L725.20,546.00 L726.00,544.30 L730.00,544.30 L731.00,546.00 L731.00,572.90 L734.80,572.90 L735.00,575.20 L737.00,575.20 L737.20,601.40 L740.70,601.40 L740.70,623.00 L743.00,623.00 L743.00,642.00 L749.00,642.00 L749.00,660.00Z" fill="#f9964a" stroke="#f9964a" stroke-width="1"/>
<path d="M721.8,635.5 L725.1,635.5 L725.1,659 L721.8,659 Z" fill="#000"/>
<line x1="591.5" y1="657.8" x2="596.5" y2="657.8" stroke="#e8101a" stroke-width="3"/>
<line x1="615.5" y1="657.8" x2="617.5" y2="657.8" stroke="#e8101a" stroke-width="3"/>
<line x1="704.5" y1="657.8" x2="711" y2="657.8" stroke="#e8101a" stroke-width="3"/>
<line x1="723.5" y1="657.8" x2="729.5" y2="657.8" stroke="#e8101a" stroke-width="3"/>
</g>
<line x1="123.3" y1="660.8" x2="848" y2="660.8" stroke="#64606c" stroke-width="1.8"/>
<path d="M123.3,661.8 V66.2 H860.0 V661.8" fill="none" stroke="#000" stroke-width="2.4"/>
<text transform="translate(111.8,670.8) scale(1,1.06)" font-size="34.5" font-weight="bold" text-anchor="end">0</text>
<text transform="translate(111.8,551.9) scale(1,1.06)" font-size="34.5" font-weight="bold" text-anchor="end">2</text>
<text transform="translate(111.8,433.1) scale(1,1.06)" font-size="34.5" font-weight="bold" text-anchor="end">4</text>
<text transform="translate(111.8,314.2) scale(1,1.06)" font-size="34.5" font-weight="bold" text-anchor="end">6</text>
<text transform="translate(111.8,195.4) scale(1,1.06)" font-size="34.5" font-weight="bold" text-anchor="end">8</text>
<text transform="translate(111.8,76.5) scale(1,1.06)" font-size="34.5" font-weight="bold" text-anchor="end">10</text>
<text transform="translate(123.3,699.6) scale(1,1.06)" font-size="34.5" font-weight="bold" text-anchor="middle">0</text>
<text transform="translate(215.4,699.6) scale(1,1.06)" font-size="34.5" font-weight="bold" text-anchor="middle">5</text>
<text transform="translate(307.5,699.6) scale(1,1.06)" font-size="34.5" font-weight="bold" text-anchor="middle">10</text>
<text transform="translate(399.6,699.6) scale(1,1.06)" font-size="34.5" font-weight="bold" text-anchor="middle">15</text>
<text transform="translate(491.7,699.6) scale(1,1.06)" font-size="34.5" font-weight="bold" text-anchor="middle">20</text>
<text transform="translate(583.7,699.6) scale(1,1.06)" font-size="34.5" font-weight="bold" text-anchor="middle">25</text>
<text transform="translate(675.8,699.6) scale(1,1.06)" font-size="34.5" font-weight="bold" text-anchor="middle">30</text>
<text transform="translate(767.9,699.6) scale(1,1.06)" font-size="34.5" font-weight="bold" text-anchor="middle">35</text>
<text transform="translate(860.0,699.6) scale(1,1.06)" font-size="34.5" font-weight="bold" text-anchor="middle">40</text>
<text x="491.3" y="768.5" font-size="50" text-anchor="middle">Time, min</text>
<text transform="translate(37.9,341.2) rotate(-90)" font-size="50" text-anchor="middle">Heating Rate, °C/min</text>
<text transform="translate(932,363) rotate(-90)" font-size="49.5" text-anchor="middle"><tspan fill="#ff0000">VOC</tspan><tspan fill="#000"> | </tspan><tspan fill="#b98482">Combined Gas</tspan><tspan fill="#000"> | </tspan><tspan fill="#f7964a">H<tspan font-size="33" dy="12">2</tspan></tspan></text>
<text transform="translate(986,364) rotate(-90)" font-size="49.5" text-anchor="middle" fill="#808080">Gas Detector (a.u.)</text>
<rect x="134.5" y="71" width="332.5" height="46.5" fill="#fff" stroke="#8c8c8c" stroke-width="1.4"/>
<line x1="138.5" y1="94.5" x2="213.5" y2="94.5" stroke="#000" stroke-width="6" stroke-linecap="round"/>
<text x="223" y="105.9" font-size="33.8">Cell Heating Rate</text>
</svg></body></html>
